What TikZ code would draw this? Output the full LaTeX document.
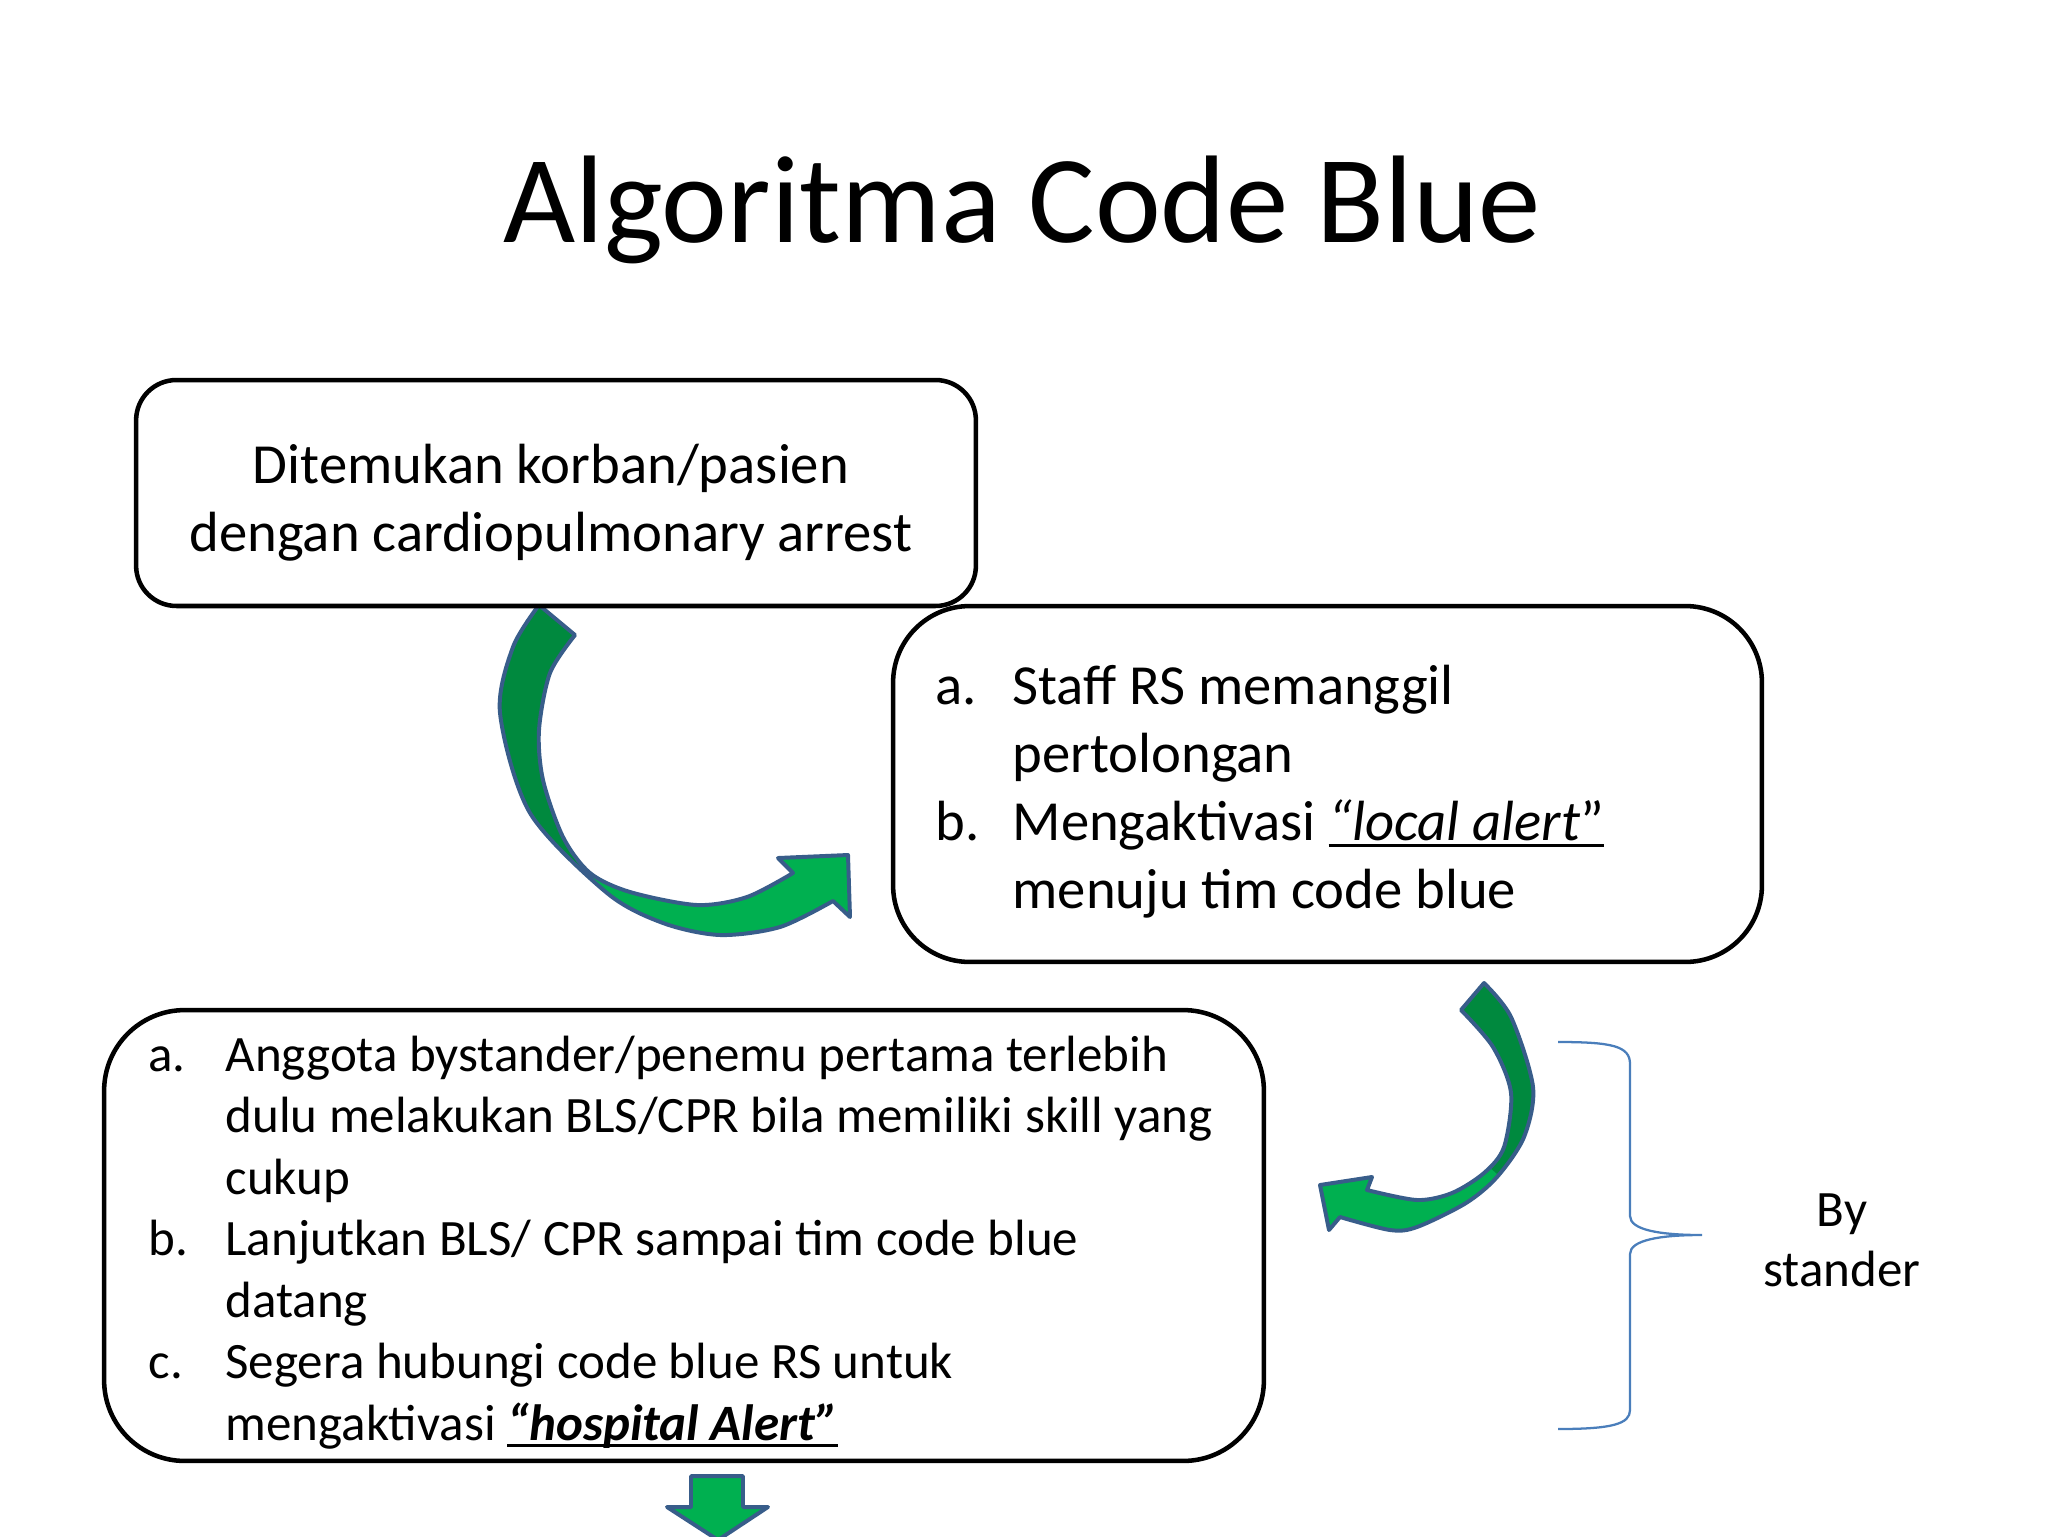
\documentclass[tikz,border=0pt]{standalone}
\usepackage{fontspec}
\setmainfont{Carlito}
\newsavebox{\myulbox}
\newcommand{\myul}[1]{\leavevmode\sbox{\myulbox}{#1}\rlap{\rule[-2.6pt]{\wd\myulbox}{1.1pt}}\usebox{\myulbox}}
\definecolor{darkg}{RGB}{0,137,62}
\definecolor{lightg}{RGB}{0,176,80}
\definecolor{outl}{RGB}{56,93,138}
\definecolor{bracec}{RGB}{74,126,187}
\tikzset{
  box/.style={draw=black, line width=1.6pt, fill=white, inner sep=0pt},
  txt/.style={anchor=base west, inner sep=0pt, text=black},
  ctxt/.style={anchor=base, inner sep=0pt, text=black},
  big/.style={font=\fontsize{20}{24}\selectfont},
  mid/.style={font=\fontsize{18}{22}\selectfont},
  garrow/.style={draw=outl, line width=1.4pt, line join=round},
}
\begin{document}
\begin{tikzpicture}[x=0.0124023cm, y=-0.0124023cm]
\useasboundingbox (0,0) rectangle (2048,1536);
\clip (0,0) rectangle (2048,1536);

% title
\node[ctxt, font=\fontsize{44}{53}\selectfont] (title) at (1022,242) {Algoritma Code Blue};

% curved arrow 1 (behind boxes)
\def\arrowApath{(539,605) -- (575,635) -- plot[smooth] coordinates {(575,635) (550,673) (539,730) (543,780) (563,837) (590,873) (630,892) (697,905) (747,897) (793,873)} -- (778,858) -- (848,855) -- (850,917) -- plot[smooth] coordinates {(833,901) (780,927) (720,935) (663,923) (607,893) (530,813) (500,713) (513,647) (539,605)} -- cycle}
\fill[lightg] \arrowApath;
\begin{scope}
  \clip (0,0) -- (1465,0) -- (0,1465) -- cycle;
  \fill[darkg] \arrowApath;
\end{scope}
\draw[garrow] \arrowApath;

% curved arrow 2
\def\arrowBpath{(1484,983) -- plot[smooth] coordinates {(1484,983) (1511,1017) (1533,1087) (1524,1137) (1497,1177) (1466,1203) (1417,1227) (1390,1230) (1340,1217)} -- (1329,1230) -- (1320,1185) -- (1372,1177) -- plot[smooth] coordinates {(1367,1190) (1417,1200) (1452,1193) (1484,1173) (1504,1147) (1511,1093) (1493,1047) (1461,1010)} -- cycle}
\fill[lightg] \arrowBpath;
\begin{scope}
  \clip (1200,0) -- (1800,0) -- (1800,1440) -- (1200,913) -- cycle;
  \fill[darkg] \arrowBpath;
\end{scope}
\draw[garrow] \arrowBpath;

% boxes
\node[box, rounded corners=0.5cm, minimum width=10.418cm, minimum height=2.803cm] (b1) at (556,493) {};
\node[box, rounded corners=0.95cm, minimum width=10.778cm, minimum height=4.415cm] (b2) at (1327.5,784) {};
\node[box, rounded corners=1.0cm, minimum width=14.387cm, minimum height=5.593cm] (b3) at (684,1235.5) {};

% box 1 text
\node[ctxt, big] (t1a) at (551,483) {Ditemukan korban/pasien};
\node[ctxt, big] (t1b) at (551,551) {dengan cardiopulmonary arrest};

% box 2 text
\node[txt, big] (l2a) at (935,704) {a.};
\node[txt, big] (t2a) at (1012,704) {Staff RS memanggil};
\node[txt, big] (t2b) at (1012,772) {pertolongan};
\node[txt, big] (l2b) at (935,840) {b.};
\node[txt, big] (t2c) at (1012,840) {Mengaktivasi \myul{\textit{“local alert}”}};
\node[txt, big] (t2d) at (1012,908) {menuju tim code blue};

% box 3 text
\node[txt, mid] (l3a) at (148,1071) {a.};
\node[txt, mid] (t3a) at (225,1071) {Anggota bystander/penemu pertama terlebih};
\node[txt, mid] (t3b) at (225,1132) {dulu melakukan BLS/CPR bila memiliki skill yang};
\node[txt, mid] (t3c) at (225,1194) {cukup};
\node[txt, mid] (l3b) at (148,1255) {b.};
\node[txt, mid] (t3d) at (225,1255) {Lanjutkan BLS/ CPR sampai tim code blue};
\node[txt, mid] (t3e) at (225,1317) {datang};
\node[txt, mid] (l3c) at (148,1378) {c.};
\node[txt, mid] (t3f) at (225,1378) {Segera hubungi code blue RS untuk};
\node[txt, mid] (t3g) at (225,1440) {mengaktivasi \myul{\textbf{\textit{“hospital Alert”}}}};

% brace
\draw[bracec, line width=0.8pt] (1558,1042) .. controls (1612,1042) and (1630,1046) .. (1630,1064) -- (1630,1216) .. controls (1630,1230) and (1660,1235) .. (1702,1235) .. controls (1660,1235) and (1630,1240) .. (1630,1254) -- (1630,1410) .. controls (1630,1424) and (1612,1429) .. (1558,1429);

% by stander
\node[ctxt, mid] (by1) at (1842,1226) {By};
\node[ctxt, mid] (by2) at (1842,1286) {stander};

% down arrow
\draw[garrow, fill=lightg] (691,1476) -- (743,1476) -- (743,1507) -- (768,1507) -- (718,1540) -- (667,1507) -- (691,1507) -- cycle;
\end{tikzpicture}
\end{document}
